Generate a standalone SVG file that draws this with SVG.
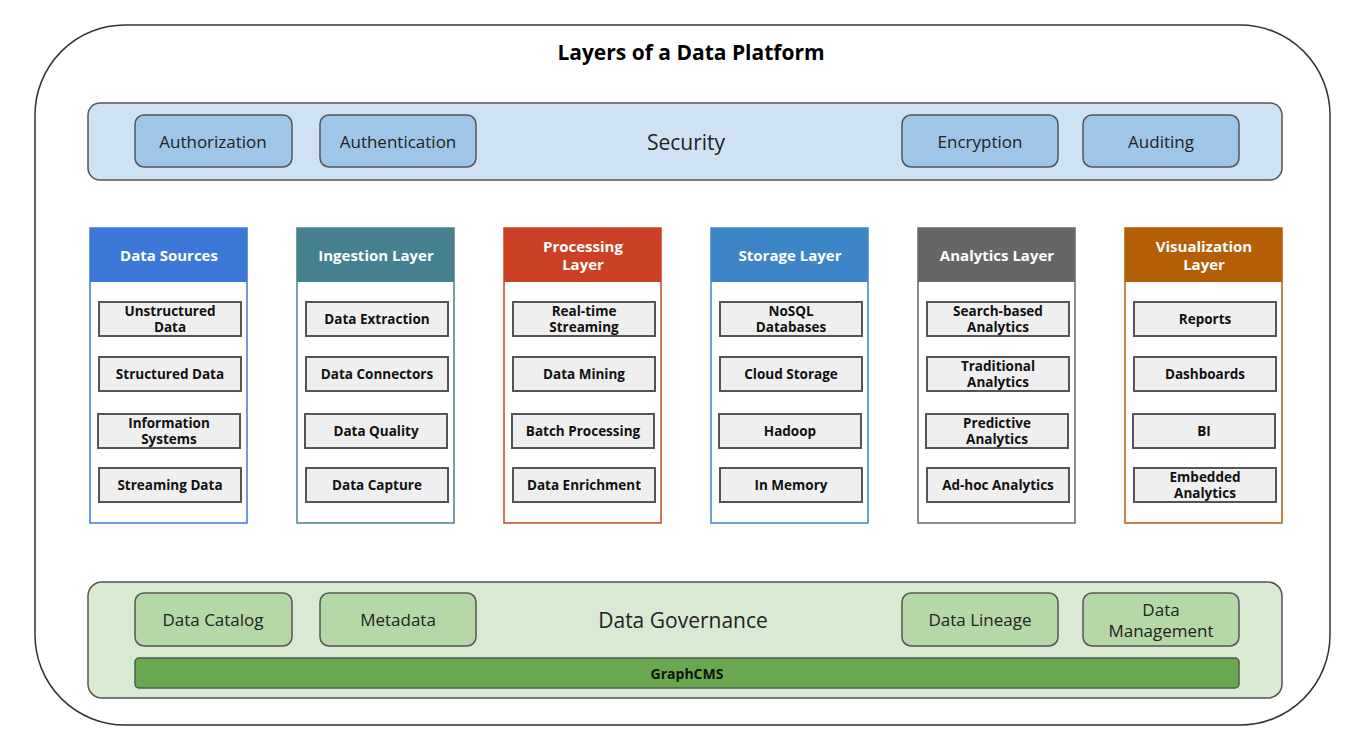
<svg xmlns="http://www.w3.org/2000/svg" width="1358" height="753" viewBox="0 0 1358 753">
<style>
text{font-family:"Open Sans","Noto Sans",sans-serif;text-anchor:middle;dominant-baseline:central}
.pill{stroke:#555;stroke-width:1.5}
.col{fill:#fff;stroke-width:1.5}
.item{fill:#efefef;stroke:#555;stroke-width:2}
.it{font-size:13.5px;font-weight:bold;fill:#111}
.hd{font-size:15px;font-weight:bold;fill:#fff}
.pt{font-size:17px;fill:#222}
</style>
<rect width="1358" height="753" fill="#fff"/>
<g id="frame"><rect x="35" y="25" width="1295" height="700" rx="90" fill="#fff" stroke="#333" stroke-width="1.5"/>
<text x="691" y="52" style="font-size:21px;font-weight:bold" fill="#000">Layers of a Data Platform</text></g>
<g id="security">
<rect x="88" y="103" width="1194" height="77" rx="12" fill="#cfe2f3" class="pill"/>
<text x="686" y="142" style="font-size:21px" fill="#222">Security</text>
<rect x="135" y="115" width="157" height="52" rx="9" fill="#9fc5e8" class="pill"/><text x="213" y="141" class="pt">Authorization</text>
<rect x="320" y="115" width="156" height="52" rx="9" fill="#9fc5e8" class="pill"/><text x="398" y="141" class="pt">Authentication</text>
<rect x="902" y="115" width="156" height="52" rx="9" fill="#9fc5e8" class="pill"/><text x="980" y="141" class="pt">Encryption</text>
<rect x="1083" y="115" width="156" height="52" rx="9" fill="#9fc5e8" class="pill"/><text x="1161" y="141" class="pt">Auditing</text>
</g>
<g id="governance">
<rect x="88" y="582" width="1194" height="116" rx="14" fill="#d9ead3" class="pill"/>
<text x="683" y="620" style="font-size:21px" fill="#222">Data Governance</text>
<rect x="135" y="593" width="157" height="53" rx="9" fill="#b6d7a8" class="pill"/><text x="213" y="619" class="pt">Data Catalog</text>
<rect x="320" y="593" width="156" height="53" rx="9" fill="#b6d7a8" class="pill"/><text x="398" y="619" class="pt">Metadata</text>
<rect x="902" y="593" width="156" height="53" rx="9" fill="#b6d7a8" class="pill"/><text x="980" y="619" class="pt">Data Lineage</text>
<rect x="1083" y="593" width="156" height="53" rx="9" fill="#b6d7a8" class="pill"/><text x="1161" y="609" class="pt">Data</text><text x="1161" y="630" class="pt">Management</text>
<rect x="135" y="658" width="1104" height="30" rx="4" fill="#6aa84f" class="pill"/><text x="687" y="673" style="font-size:14px;font-weight:bold" fill="#111">GraphCMS</text>
</g>
<g id="col1">
<rect x="90" y="228" width="157" height="295" class="col" stroke="#3c78d8"/><rect x="90" y="228" width="157" height="54" fill="#3c78d8"/>
<text x="169" y="255" class="hd">Data Sources</text>
<rect x="99" y="302" width="142" height="34" class="item"/><text x="170" y="311" class="it">Unstructured</text><text x="170" y="327" class="it">Data</text>
<rect x="99" y="357" width="142" height="34" class="item"/><text x="170" y="374" class="it">Structured Data</text>
<rect x="98" y="414" width="142" height="34" class="item"/><text x="169" y="423" class="it">Information</text><text x="169" y="439" class="it">Systems</text>
<rect x="99" y="468" width="142" height="34" class="item"/><text x="170" y="485" class="it">Streaming Data</text>
</g>
<g id="col2">
<rect x="297" y="228" width="157" height="295" class="col" stroke="#45818e"/><rect x="297" y="228" width="157" height="54" fill="#45818e"/>
<text x="376" y="255" class="hd">Ingestion Layer</text>
<rect x="306" y="302" width="142" height="34" class="item"/><text x="377" y="319" class="it">Data Extraction</text>
<rect x="306" y="357" width="142" height="34" class="item"/><text x="377" y="374" class="it">Data Connectors</text>
<rect x="305" y="414" width="142" height="34" class="item"/><text x="376" y="431" class="it">Data Quality</text>
<rect x="306" y="468" width="142" height="34" class="item"/><text x="377" y="485" class="it">Data Capture</text>
</g>
<g id="col3">
<rect x="504" y="228" width="157" height="295" class="col" stroke="#cc4125"/><rect x="504" y="228" width="157" height="54" fill="#cc4125"/>
<text x="583" y="246" class="hd">Processing</text><text x="583" y="264" class="hd">Layer</text>
<rect x="513" y="302" width="142" height="34" class="item"/><text x="584" y="311" class="it">Real-time</text><text x="584" y="327" class="it">Streaming</text>
<rect x="513" y="357" width="142" height="34" class="item"/><text x="584" y="374" class="it">Data Mining</text>
<rect x="512" y="414" width="142" height="34" class="item"/><text x="583" y="431" class="it">Batch Processing</text>
<rect x="513" y="468" width="142" height="34" class="item"/><text x="584" y="485" class="it">Data Enrichment</text>
</g>
<g id="col4">
<rect x="711" y="228" width="157" height="295" class="col" stroke="#3d85c6"/><rect x="711" y="228" width="157" height="54" fill="#3d85c6"/>
<text x="790" y="255" class="hd">Storage Layer</text>
<rect x="720" y="302" width="142" height="34" class="item"/><text x="791" y="311" class="it">NoSQL</text><text x="791" y="327" class="it">Databases</text>
<rect x="720" y="357" width="142" height="34" class="item"/><text x="791" y="374" class="it">Cloud Storage</text>
<rect x="719" y="414" width="142" height="34" class="item"/><text x="790" y="431" class="it">Hadoop</text>
<rect x="720" y="468" width="142" height="34" class="item"/><text x="791" y="485" class="it">In Memory</text>
</g>
<g id="col5">
<rect x="918" y="228" width="157" height="295" class="col" stroke="#666"/><rect x="918" y="228" width="157" height="54" fill="#666"/>
<text x="997" y="255" class="hd">Analytics Layer</text>
<rect x="927" y="302" width="142" height="34" class="item"/><text x="998" y="311" class="it">Search-based</text><text x="998" y="327" class="it">Analytics</text>
<rect x="927" y="357" width="142" height="34" class="item"/><text x="998" y="366" class="it">Traditional</text><text x="998" y="382" class="it">Analytics</text>
<rect x="926" y="414" width="142" height="34" class="item"/><text x="997" y="423" class="it">Predictive</text><text x="997" y="439" class="it">Analytics</text>
<rect x="927" y="468" width="142" height="34" class="item"/><text x="998" y="485" class="it">Ad-hoc Analytics</text>
</g>
<g id="col6">
<rect x="1125" y="228" width="157" height="295" class="col" stroke="#b45f06"/><rect x="1125" y="228" width="157" height="54" fill="#b45f06"/>
<text x="1204" y="246" class="hd">Visualization</text><text x="1204" y="264" class="hd">Layer</text>
<rect x="1134" y="302" width="142" height="34" class="item"/><text x="1205" y="319" class="it">Reports</text>
<rect x="1134" y="357" width="142" height="34" class="item"/><text x="1205" y="374" class="it">Dashboards</text>
<rect x="1133" y="414" width="142" height="34" class="item"/><text x="1204" y="431" class="it">BI</text>
<rect x="1134" y="468" width="142" height="34" class="item"/><text x="1205" y="477" class="it">Embedded</text><text x="1205" y="493" class="it">Analytics</text>
</g>
<g id="connectors"/>
</svg>
